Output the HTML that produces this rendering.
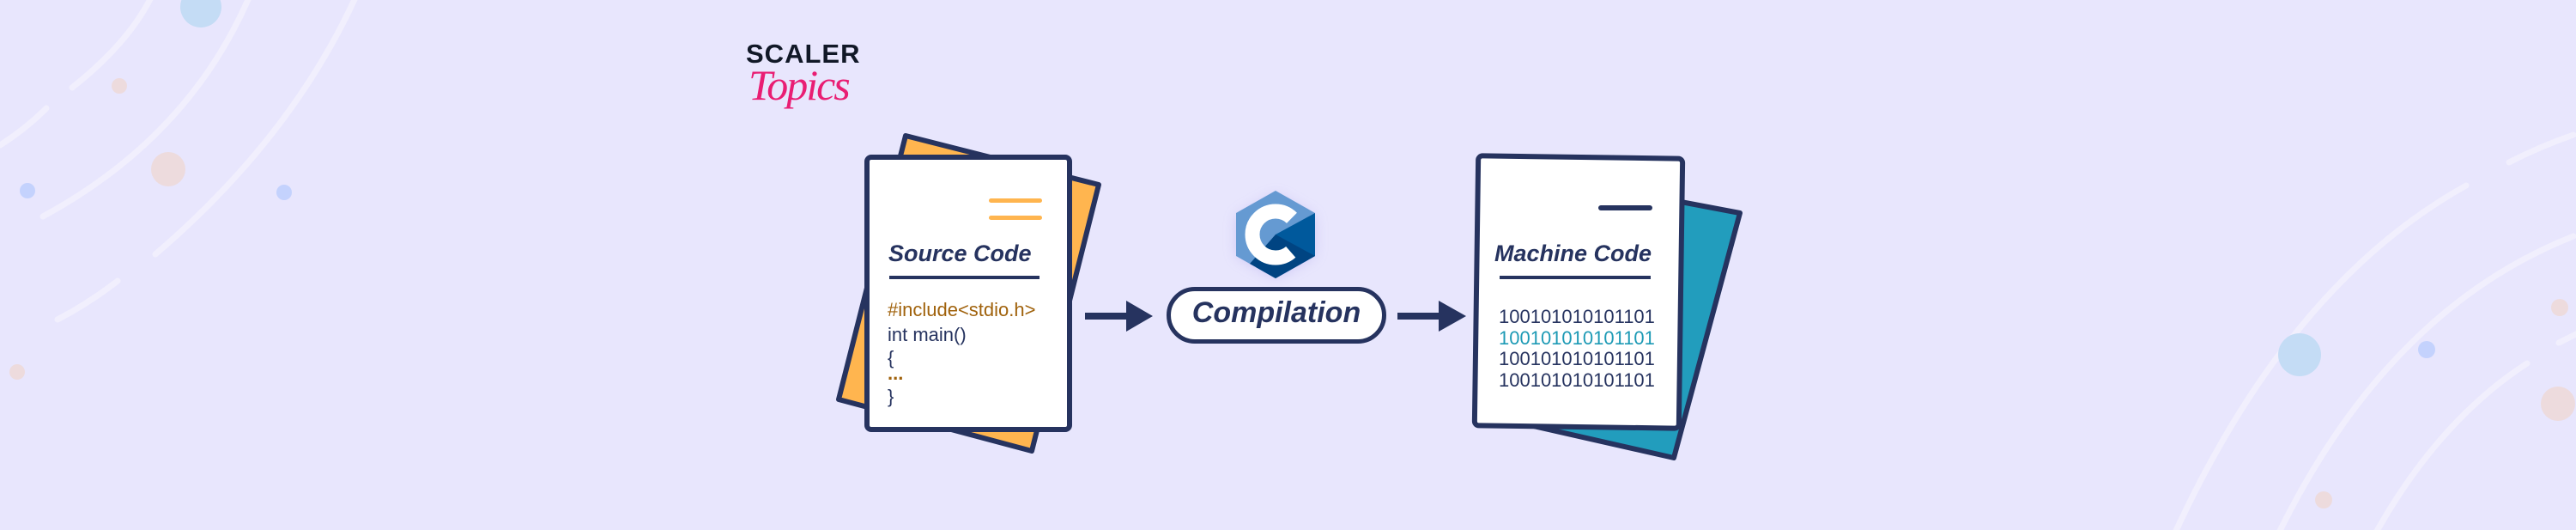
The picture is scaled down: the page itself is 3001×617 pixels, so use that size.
<!DOCTYPE html>
<html><head><meta charset="utf-8"><style>
html,body{margin:0;padding:0}
body{width:3001px;height:617px;background:#e8e6fd;position:relative;overflow:hidden;font-family:"Liberation Sans",sans-serif}
.abs{position:absolute}
.card{position:absolute;background:#fff;border:6px solid #26335f;border-radius:8px;box-sizing:border-box}
.t{position:absolute;white-space:nowrap;color:#26335f}
</style></head><body>
<svg class="abs" style="left:0;top:0" width="3001" height="617">
<g fill="none" stroke="#f1effd" stroke-width="7" stroke-linecap="round">
<path d="M177,-5 Q150,50 84,102"/>
<path d="M291,-5 Q220,160 50,252"/>
<path d="M415,-5 Q340,160 181,296"/>
<path d="M54,126 Q30,150 0,169"/>
<path d="M137,327 Q105,352 67,372"/>
<path d="M2873,216 Q2668,330 2534,620"/>
<path d="M2998,275 Q2783,360 2655,620"/>
<path d="M2944,423 Q2841,490 2768,620"/>
<path d="M2923,189 Q2960,170 2998,157"/>
<path d="M2981,399 L3003,388"/>
</g>
<circle cx="234" cy="8" r="24" fill="#c4dcf5"/>
<circle cx="139" cy="100" r="9" fill="#eddbdd"/>
<circle cx="196" cy="197" r="20" fill="#eddbdd"/>
<circle cx="32" cy="222" r="9" fill="#c4d2fd"/>
<circle cx="331" cy="224" r="9" fill="#c4d2fd"/>
<circle cx="20" cy="433" r="9" fill="#eddbdd"/>
<circle cx="2679" cy="413" r="25" fill="#c4dcf5"/>
<circle cx="2827" cy="407" r="10" fill="#c4d2fd"/>
<circle cx="2982" cy="358" r="10" fill="#eddbdd"/>
<circle cx="2980" cy="470" r="20" fill="#eddbdd"/>
<circle cx="2707" cy="582" r="10" fill="#eddbdd"/>
<polygon points="1055,158 1280,215 1202,525 977,465" fill="#ffb54f" stroke="#26335f" stroke-width="6" stroke-linejoin="round"/>
<polygon points="1800,205 2027,248 1950,533 1760,490" fill="#229dbd" stroke="#26335f" stroke-width="6" stroke-linejoin="round"/>
</svg>

<div class="t" style="left:869px;top:45px;font-size:31px;font-weight:bold;color:#111827;letter-spacing:1px">SCALER</div>
<div class="t" style="left:872px;top:70px;font-size:50px;font-style:italic;color:#e91e73;font-family:'Liberation Serif',serif;letter-spacing:-2px">Topics</div>

<div class="card" style="left:1007px;top:180px;width:242px;height:323px"></div>
<div class="abs" style="left:1152px;top:231px;width:62px;height:5px;background:#ffb54f;border-radius:3px"></div>
<div class="abs" style="left:1152px;top:251px;width:62px;height:5px;background:#ffb54f;border-radius:3px"></div>
<div class="t" style="left:1035px;top:280px;font-size:27px;font-weight:bold;font-style:italic">Source Code</div>
<div class="abs" style="left:1036px;top:321px;width:175px;height:4px;background:#26335f"></div>
<div class="t" style="left:1034px;top:348px;font-size:22px;color:#a0620c">#include&lt;stdio.h&gt;</div>
<div class="t" style="left:1034px;top:377px;font-size:22px">int main()</div>
<div class="t" style="left:1034px;top:404px;font-size:22px">{</div>
<div class="t" style="left:1034px;top:422px;font-size:22px;color:#a0620c;font-weight:bold">...</div>
<div class="t" style="left:1034px;top:449px;font-size:22px">}</div>

<svg class="abs" style="left:0;top:0" width="3001" height="617">
<rect x="1264" y="364" width="52" height="8" fill="#26335f"/>
<polygon points="1312,350 1343,368 1312,386" fill="#26335f"/>
<rect x="1628" y="364" width="50" height="8" fill="#26335f"/>
<polygon points="1676,350 1708,368 1676,386" fill="#26335f"/>
<defs><filter id="sh" x="-50%" y="-50%" width="200%" height="200%"><feGaussianBlur stdDeviation="8"/></filter></defs>
<polygon points="1486,228 1530,253 1530,297 1486,322 1442,297 1442,253" fill="#b9b0ee" filter="url(#sh)" opacity="0.7"/>
<polygon points="1486,222 1532,248 1532,298 1486,324 1440,298 1440,248" fill="#659ad2"/>
<polygon points="1486,273 1532,248 1532,298 1486,324 1463,311" fill="#00599c"/>
<polygon points="1486,273 1532,298 1486,324 1456,307" fill="#004482"/>
<circle cx="1486" cy="273" r="27" fill="none" stroke="#fff" stroke-width="17" stroke-dasharray="125 45" stroke-dashoffset="-23"/>
</svg>

<div class="abs" style="left:1359px;top:334px;width:256px;height:66px;border:5px solid #26335f;border-radius:34px;background:#fff;box-sizing:border-box"></div>
<div class="t" style="left:1359px;top:345px;width:256px;text-align:center;font-size:34px;font-weight:bold;font-style:italic">Compilation</div>

<div class="card" style="left:1717px;top:180px;width:244px;height:320px;transform:rotate(0.8deg)"></div>
<div class="abs" style="left:1862px;top:239px;width:63px;height:6px;background:#26335f;border-radius:3px"></div>
<div class="t" style="left:1741px;top:280px;font-size:27px;font-weight:bold;font-style:italic">Machine Code</div>
<div class="abs" style="left:1747px;top:321px;width:176px;height:4px;background:#26335f"></div>
<div class="t" style="left:1746px;top:357px;font-size:22px;line-height:24.5px">100101010101101<br><span style="color:#1d9ab5">100101010101101</span><br>100101010101101<br>100101010101101</div>
</body></html>
